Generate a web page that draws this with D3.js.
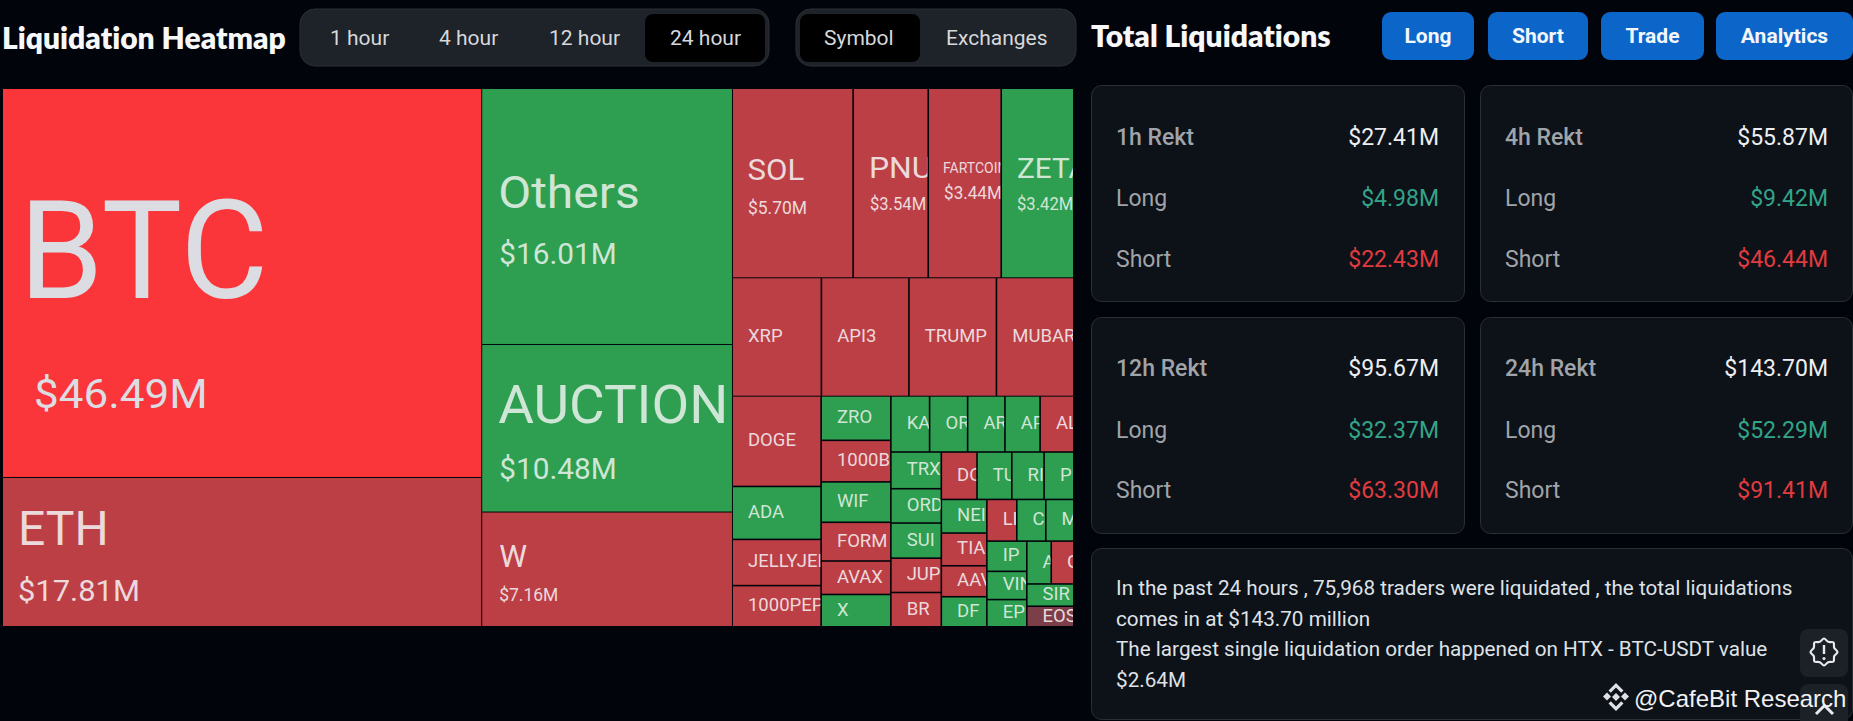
<!DOCTYPE html>
<html>
<head>
<meta charset="utf-8">
<script src="https://cdn.jsdelivr.net/npm/d3@7/dist/d3.min.js"></script>
<style>
html,body{margin:0;padding:0;background:#02040b;overflow:hidden}
svg{display:block}
text{font-family:Roboto,sans-serif}
</style>
</head>
<body>
<div id="chart"></div>
<script>
// ---------- data ($ millions) ----------
const majorNames = ["BTC","ETH"];
const majorValues = [46.49,17.81];
const secondNames = ["Others","AUCTION","W"];
const secondValues = [16.01,10.48,7.16];
const rowOneNames = ["SOL","PNUT","FARTCOIN","ZETA"];
const rowOneValues = [5.70,3.54,3.44,3.42];
const rowTwoNames = ["XRP","API3","TRUMP","MUBARAK"];
const rowTwoValues = [2.63,2.58,2.58,2.28];
const colANames = ["DOGE","ADA","JELLYJEL","1000PEP"];
const colAValues = [2.00,1.17,1.02,0.91];
const colBNames = ["ZRO","1000BO","WIF","FORM","AVAX","X"];
const colBValues = [0.77,0.72,0.70,0.67,0.58,0.56];
const rowCNames = ["KA","OR","AR","AP","AL"];
const rowCValues = [0.54,0.53,0.52,0.49,0.47];
const colDNames = ["TRX","ORD","SUI","JUP","BR"];
const colDValues = [0.46,0.43,0.44,0.43,0.43];
const rowENames = ["DO","TU","RI","PI"];
const rowEValues = [0.42,0.41,0.38,0.35];
const colFNames = ["NEI","TIA","AAV","DF"];
const colFValues = [0.38,0.37,0.35,0.34];
const rowGNames = ["LI","C","M"];
const rowGValues = [0.31,0.30,0.29];
const colHNames = ["IP","VIN","EP"];
const colHValues = [0.30,0.28,0.27];
const rowINames = ["A","G"];
const rowIValues = [0.26,0.24];
const tailNames = ["SIR","EOS"];
const tailValues = [0.26,0.24];

const longSide = ["Others","AUCTION","ZETA","ADA","ZRO","WIF","X","KA","OR","AR","AP","TRX","ORD","SUI","TU","RI","PI","NEI","DF","C","M","IP","VIN","EP","A","SIR"];
const heavyShort = ["BTC"];
const mutedShort = ["EOS"];

const periods = ["1h Rekt","4h Rekt","12h Rekt","24h Rekt"];
const periodTotals = ["$27.41M","$55.87M","$95.67M","$143.70M"];
const periodLongs = ["$4.98M","$9.42M","$32.37M","$52.29M"];
const periodShorts = ["$22.43M","$46.44M","$63.30M","$91.41M"];

const hourTabs = ["1 hour","4 hour","12 hour","24 hour"];
const viewTabs = ["Symbol","Exchanges"];
const actionButtons = ["Long","Short","Trade","Analytics"];
const summaryLines = [
  "In the past 24 hours , 75,968 traders were liquidated , the total liquidations",
  "comes in at $143.70 million",
  "The largest single liquidation order happened on HTX - BTC-USDT value",
  "$2.64M"
];

// ---------- nested groups: dice / slice alternate with depth ----------
const leaves = (names, values) => names.map((n,i)=>({name:n,value:values[i]}));
const group = (...children) => ({children});
const treeData = group(
  group(...leaves(majorNames,majorValues)),
  group(...leaves(secondNames,secondValues)),
  group(
    group(...leaves(rowOneNames,rowOneValues)),
    group(...leaves(rowTwoNames,rowTwoValues)),
    group(
      group(...leaves(colANames,colAValues)),
      group(...leaves(colBNames,colBValues)),
      group(
        group(...leaves(rowCNames,rowCValues)),
        group(
          group(...leaves(colDNames,colDValues)),
          group(
            group(...leaves(rowENames,rowEValues)),
            group(
              group(...leaves(colFNames,colFValues)),
              group(
                group(...leaves(rowGNames,rowGValues)),
                group(
                  group(...leaves(colHNames,colHValues)),
                  group(
                    group(...leaves(rowINames,rowIValues)),
                    ...leaves(tailNames,tailValues)
                  )
                )
              )
            )
          )
        )
      )
    )
  )
);

const W = 1853, H = 721;
const svg = d3.select("#chart").append("svg").attr("width",W).attr("height",H).attr("viewBox",`0 0 ${W} ${H}`);
const bg = "#02040b";
svg.append("rect").attr("width",W).attr("height",H).attr("fill",bg);

// ---------- header left ----------
const titleFont = "Lato,sans-serif";
svg.append("text").text("Liquidation Heatmap").attr("x",2).attr("y",49)
  .attr("font-size",30).attr("font-weight",800).style("font-family",titleFont)
  .style("font-variant-ligatures","none").attr("fill","#f7f8f9");

function tabBar(x0,x1,labels,xs,active,ax0,ax1){
  const g = svg.append("g");
  g.append("rect").attr("x",x0).attr("y",9).attr("width",x1-x0).attr("height",57).attr("rx",15)
    .attr("fill","#1e2229").attr("stroke","#2c3037").attr("stroke-width",1);
  g.append("rect").attr("x",ax0).attr("y",14).attr("width",ax1-ax0).attr("height",48).attr("rx",8).attr("fill","#000");
  g.selectAll("text").data(labels).join("text").text(d=>d)
    .attr("x",(d,i)=>xs[i]).attr("y",45).attr("font-size",21).attr("fill","#d6d8dc");
}
tabBar(300,769,hourTabs,[330,439,549,670],3,645,765);
tabBar(796,1076,viewTabs,[824,946],0,800,920);

// ---------- treemap ----------
const tmX = 3, tmY = 89, tmW = 1070, tmH = 537;
const root = d3.hierarchy(treeData).sum(d=>d.value||0);
d3.treemap().size([tmW,tmH]).tile(d3.treemapSliceDice)
  .paddingInner(d=>d.depth>=2?1.6:1)(root);

const sideScale = d3.scaleOrdinal()
  .domain(["long","short","heavy","muted"])
  .range(["#2e9e50","#bd3f46","#fa363a","#7c3f4a"]);
const sideOf = n => longSide.includes(n)?"long":heavyShort.includes(n)?"heavy":mutedShort.includes(n)?"muted":"short";

// label styling only: [name size, value size, name dy, value dy, name pad, value pad, name squeeze, value squeeze]
const labelStyle = {
  BTC:[138,40,15,125,16,31,.98,1.10],
  ETH:[48,30,-6.5,49.5,15,15,1.0,1.03],
  Others:[44,29.5,-8.5,47.5,16,17,1.09,1.01],
  AUCTION:[54,29.5,-5,51,16,17,1.015,1.01],
  W:[32,18,-2,32,17,17,.98,.97],
  SOL:[30,18,-3,31,14.5,15,1.04,.97],
  PNUT:[29,17.5,-5,27,15,16,1.1,.95],
  FARTCOIN:[14,18,-10,16,14,15,1.0,.95],
  ZETA:[27,17.5,-5,27,15,15,1.1,.95]
};
const fmtVal = d3.format(".2f");
const g = svg.append("g").attr("transform",`translate(${tmX},${tmY})`);
const defs = svg.append("defs");
const cells = g.selectAll("g.cell").data(root.leaves()).join("g").attr("class","cell")
  .attr("transform",d=>`translate(${d.x0},${d.y0})`);
cells.append("rect").attr("width",d=>d.x1-d.x0).attr("height",d=>d.y1-d.y0)
  .attr("fill",d=>sideScale(sideOf(d.data.name)));
cells.each(function(d,i){
  defs.append("clipPath").attr("id","c"+i).append("rect").attr("width",d.x1-d.x0).attr("height",d.y1-d.y0);
  const cell = d3.select(this).append("g").attr("clip-path",`url(#c${i})`);
  const s = labelStyle[d.data.name];
  const cy = (d.y1-d.y0)/2;
  const ink = d.data.name==="BTC"?"#dcdde3":"#ecd9dc";
  const color = sideOf(d.data.name)==="long"?"#cfe6d6":ink;
  if(s){
    cell.append("text").text(d.data.name)
      .attr("transform",`translate(${s[4]},${cy+s[2]}) scale(${s[6]},1)`)
      .attr("font-size",s[0]).attr("fill",color);
    cell.append("text").text("$"+fmtVal(d.data.value)+"M")
      .attr("transform",`translate(${s[5]},${cy+s[3]}) scale(${s[7]},1)`)
      .attr("font-size",s[1]).attr("fill",color);
  } else {
    cell.append("text").text(d.data.name).attr("x",15).attr("y",cy+5)
      .attr("font-size",18.5).attr("fill",color);
  }
});

// ---------- right panel ----------
svg.append("text").text("Total Liquidations").attr("x",1091).attr("y",47)
  .attr("font-size",30).attr("font-weight",800).style("font-family",titleFont)
  .style("font-variant-ligatures","none").attr("fill","#f7f8f9");

const btnX = [1382,1488,1601,1716], btnW = [92,100,103,137];
const btn = svg.selectAll("g.btn").data(actionButtons).join("g").attr("class","btn");
btn.append("rect").attr("x",(d,i)=>btnX[i]).attr("y",12).attr("width",(d,i)=>btnW[i]).attr("height",48).attr("rx",9).attr("fill","#0c66c9");
btn.append("text").text(d=>d).attr("x",(d,i)=>btnX[i]+btnW[i]/2).attr("y",43).attr("text-anchor","middle")
  .attr("font-size",21).attr("font-weight",700).attr("fill","#f3f7fc");

const cardX = d3.scaleOrdinal().domain([0,1]).range([1091,1480]);
const cardY = d3.scaleOrdinal().domain([0,1]).range([85,317]);
const card = svg.selectAll("g.card").data(periods).join("g").attr("class","card")
  .attr("transform",(d,i)=>`translate(${cardX(i%2)},${cardY(i>>1)})`);
card.append("rect").attr("x",.5).attr("y",.5).attr("width",(d,i)=>i%2?372:373).attr("height",216).attr("rx",10)
  .attr("fill","#0d1118").attr("stroke","#2a2e35");
const rowY = [60,121,182];
const leftX = 25, rightX = 348;
card.append("text").text(d=>d).attr("x",leftX).attr("y",(d,i)=>rowY[0]-(i>>1)).attr("font-size",23).attr("font-weight",500).attr("fill","#a0a4a9");
card.append("text").text((d,i)=>periodTotals[i]).attr("x",rightX).attr("y",(d,i)=>rowY[0]-(i>>1)).attr("text-anchor","end").attr("font-size",23).attr("fill","#eceef0");
card.append("text").text("Long").attr("x",leftX).attr("y",rowY[1]).attr("font-size",23).attr("fill","#a0a4a9");
card.append("text").text((d,i)=>periodLongs[i]).attr("x",rightX).attr("y",rowY[1]).attr("text-anchor","end").attr("font-size",23).attr("fill","#33a488");
card.append("text").text("Short").attr("x",leftX).attr("y",(d,i)=>rowY[2]-(i>>1)).attr("font-size",23).attr("fill","#a0a4a9");
card.append("text").text((d,i)=>periodShorts[i]).attr("x",rightX).attr("y",(d,i)=>rowY[2]-(i>>1)).attr("text-anchor","end").attr("font-size",23).attr("fill","#e03b3f");

// ---------- summary ----------
svg.append("rect").attr("x",1091.5).attr("y",548.5).attr("width",761).attr("height",171).attr("rx",10)
  .attr("fill","#0d1118").attr("stroke","#2a2e35");
const summaryY = [595,626,656,687];
svg.selectAll("text.sum").data(summaryLines).join("text").attr("class","sum").text(d=>d)
  .attr("x",1116).attr("y",(d,i)=>summaryY[i]).attr("font-size",20.7).attr("fill","#dfe2e6");

// ---------- floating buttons ----------
svg.append("rect").attr("x",1800).attr("y",629).attr("width",48).attr("height",48).attr("rx",8).attr("fill","#1c2027");
svg.append("rect").attr("x",1800).attr("y",684).attr("width",48).attr("height",60).attr("rx",8).attr("fill","#1c2027");
const badgePts = d3.range(16).map(i=>{const a=i/16*2*Math.PI,r=i%2?11:13.5;return [1824+r*Math.sin(a),652-r*Math.cos(a)];});
svg.append("path").attr("d",d3.line().curve(d3.curveCatmullRomClosed)(badgePts)).attr("fill","none").attr("stroke","#e7e9ec").attr("stroke-width",2.2);
svg.append("line").attr("x1",1824).attr("x2",1824).attr("y1",645).attr("y2",654).attr("stroke","#e7e9ec").attr("stroke-width",2.4);
svg.append("circle").attr("cx",1824).attr("cy",658.5).attr("r",1.5).attr("fill","#e7e9ec");
svg.append("path").attr("d","M1816,714L1824.5,705.5L1833,714").attr("fill","none").attr("stroke","#e7e9ec").attr("stroke-width",3);

// ---------- watermark ----------
const logo = svg.append("g").attr("transform","translate(1616,697)").attr("fill","#dfe1e4");
logo.append("path").attr("d","M0,-4L4,0L0,4L-4,0Z");
logo.append("path").attr("d","M-9,-4.5L-5,-0.5L-9,3.5L-13,-0.5Z M9,-4.5L13,-0.5L9,3.5L5,-0.5Z");
logo.append("path").attr("d","M0,-14L7.5,-6.5L5.2,-4.2L0,-9.4L-5.2,-4.2L-7.5,-6.5Z");
logo.append("path").attr("d","M0,14L7.5,6.5L5.2,4.2L0,9.4L-5.2,4.2L-7.5,6.5Z");
svg.append("text").text("@CafeBit Research").attr("x",1634).attr("y",706.5)
  .style("font-family","'Liberation Sans',sans-serif").attr("font-size",24).attr("fill","#f1f2f3");
</script>
</body>
</html>
